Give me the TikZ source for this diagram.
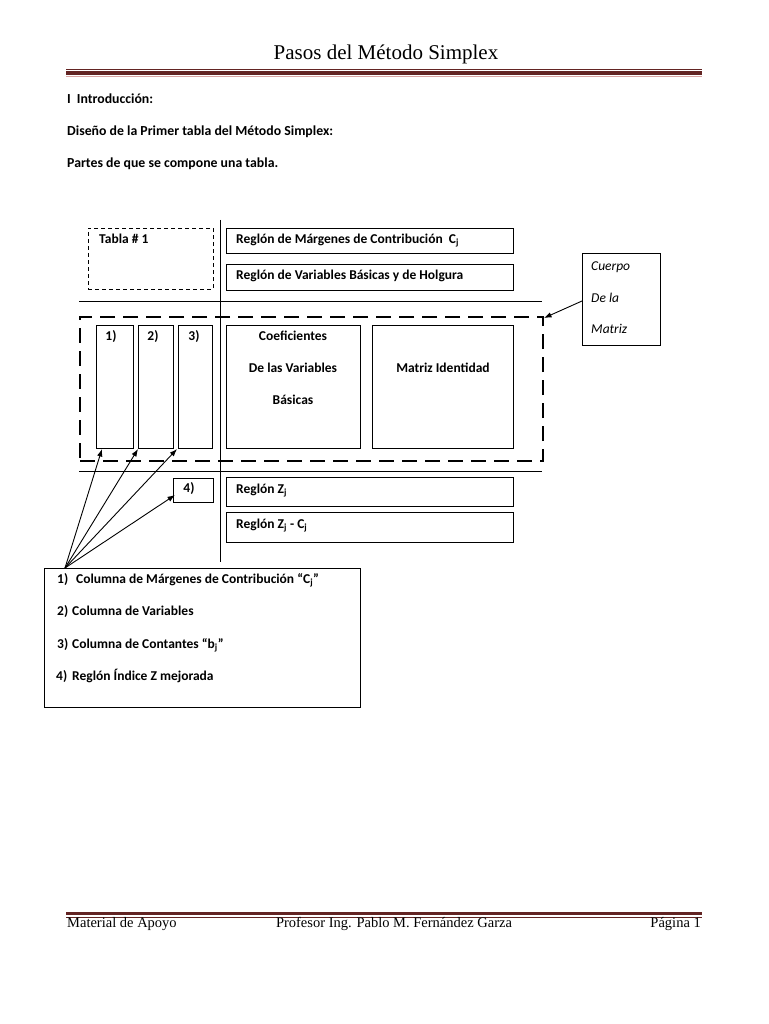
\documentclass[tikz,border=0pt]{standalone}
\usepackage{fontspec}
\setmainfont{Carlito}
\newfontfamily\serifc{Liberation Serif}
\usetikzlibrary{arrows.meta,calc}
\definecolor{rulered}{HTML}{632423}
\definecolor{rulepink}{HTML}{D9A5A4}
\begin{document}
\begin{tikzpicture}[x=1pt,y=-1pt,
  box/.style={draw, line width=0.9pt, inner sep=0pt, outer sep=0pt, anchor=north west},
  thindash/.style={dash pattern=on 4pt off 3pt},
  thickdash/.style={line width=2.6pt, dash pattern=on 15pt off 8pt},
  txt/.style={inner sep=0pt, anchor=mid west, font=\fontsize{13.5}{16}\selectfont\bfseries},
  headtxt/.style={inner sep=0pt, anchor=mid west, font=\fontsize{13.8}{16}\selectfont\bfseries},
  ctxt/.style={inner sep=0pt, anchor=mid, font=\fontsize{13.5}{16}\selectfont\bfseries},
  itxt/.style={inner sep=0pt, anchor=mid west, font=\fontsize{13.5}{16}\selectfont\itshape},
  ftxt/.style={inner sep=0pt, anchor=mid, font=\fontsize{14.5}{17}\selectfont\serifc},
  arr/.style={-{Latex[length=7.5pt,width=5.5pt]}, line width=0.9pt},
  sep/.style={line width=0.9pt},
]
\useasboundingbox (0,0) rectangle (768,1024);

% header
\node[inner sep=0pt, anchor=mid, font=\fontsize{21}{24}\selectfont\serifc] (title) at (386,57) {Pasos del Método Simplex};
\draw[rulered, line width=0.8pt] (66,69.3) -- (702,69.3);
\fill[rulered] (66,71.5) rectangle (702,75.5);
\draw[rulepink, line width=0.6pt] (66,76.3) -- (702,76.3);

% intro text
\node[headtxt] (t1) at (67,101) {I\hspace{6pt}Introducción:};
\node[headtxt] (t2) at (67,133) {Diseño de la Primer tabla del Método Simplex:};
\node[headtxt] (t3) at (67,165) {Partes de que se compone una tabla.};

% separator lines
\coordinate (vt) at (220,220);
\coordinate (vb) at (220,562);
\draw[sep] (vt) -- (vb);
\coordinate (h1l) at (79,301);
\coordinate (h1r) at (542,301);
\draw[sep] (h1l) -- (h1r);
\coordinate (h2l) at (79,471);
\coordinate (h2r) at (542,471);
\draw[sep] (h2l) -- (h2r);

% boxes
\node[box, thindash, minimum width=125pt, minimum height=61pt] (tabla) at (88,228) {};
\node[txt] (tablat) at (99,241) {Tabla \# 1};
\node[box, minimum width=287pt, minimum height=25pt] (rmc) at (226,228) {};
\node[txt] (rmct) at (236,241) {Reglón de Márgenes de Contribución\ \ C\textsubscript{j}};
\node[box, minimum width=287pt, minimum height=26pt] (rvb) at (226,264) {};
\node[txt] (rvbt) at (236,277) {Reglón de Variables Básicas y de Holgura};

\node[box, thickdash, minimum width=463pt, minimum height=144pt] (body) at (80,317) {};
\node[box, minimum width=37pt, minimum height=123pt] (c1) at (96,325) {};
\node[box, minimum width=35pt, minimum height=123pt] (c2) at (138,325) {};
\node[box, minimum width=34pt, minimum height=123pt] (c3) at (178,325) {};
\node[ctxt] (c1t) at (111,338) {1)};
\node[ctxt] (c2t) at (153,338) {2)};
\node[ctxt] (c3t) at (194,338) {3)};
\node[box, minimum width=134pt, minimum height=123pt] (coef) at (226,325) {};
\node[ctxt] (coef1) at (293,338) {Coeficientes};
\node[ctxt] (coef2) at (293,370) {De las Variables};
\node[ctxt] (coef3) at (293,402) {Básicas};
\node[box, minimum width=141pt, minimum height=123pt] (ident) at (372,325) {};
\node[ctxt] (identt) at (443,370) {Matriz Identidad};

\node[box, minimum width=40pt, minimum height=24pt] (c4) at (173,478) {};
\node[ctxt] (c4t) at (189,490) {4)};
\node[box, minimum width=287pt, minimum height=29pt] (rz) at (226,477) {};
\node[txt] (rzt) at (236,491) {Reglón Z\textsubscript{j}};
\node[box, minimum width=287pt, minimum height=30pt] (rzc) at (226,512) {};
\node[txt] (rzct) at (236,526) {Reglón Z\textsubscript{j} - C\textsubscript{j}};

% legend
\node[box, minimum width=316pt, minimum height=139pt] (legend) at (44,568) {};
\node[txt] (l1n) at (57,581) {1)};
\node[txt] (l1) at (76,581) {Columna de Márgenes de Contribución “C\textsubscript{j}”};
\node[txt] (l2n) at (57,613) {2)};
\node[txt] (l2) at (72,613) {Columna de Variables};
\node[txt] (l3n) at (57,646) {3)};
\node[txt] (l3) at (72,646) {Columna de Contantes “b\textsubscript{j}”};
\node[txt] (l4n) at (56,678) {4)};
\node[txt] (l4) at (72,678) {Reglón Índice Z mejorada};

% cuerpo box
\node[box, minimum width=78pt, minimum height=92pt] (cuerpo) at (582,253) {};
\node[itxt] (cu1) at (591,268) {Cuerpo};
\node[itxt] (cu2) at (591,300) {De la};
\node[itxt] (cu3) at (591,331) {Matriz};

% arrows
\coordinate (org) at (65,568);
\draw[arr] (org) -- ($(c1.south west)+(6,1)$);
\draw[arr] (org) -- ($(c2.south west)+(0,1)$);
\draw[arr] (org) -- ($(c3.south west)+(-1,1)$);
\draw[arr] (org) -- ($(c4.south west)+(2,-7)$);
\draw[arr] ($(cuerpo.west)+(0,2)$) -- ($(body.north east)+(1,1)$);

% footer
\fill[rulered] (66,911.5) rectangle (702,915.3);
\draw[rulered, line width=0.6pt] (66,916.8) -- (702,916.8);
\node[ftxt, anchor=mid west] (f1) at (67,925) {Material de Apoyo};
\node[ftxt] (f2) at (394,925) {Profesor Ing. Pablo M. Fernández Garza};
\node[ftxt, anchor=mid east] (f3) at (701,925) {Página 1};
\end{tikzpicture}
\end{document}
